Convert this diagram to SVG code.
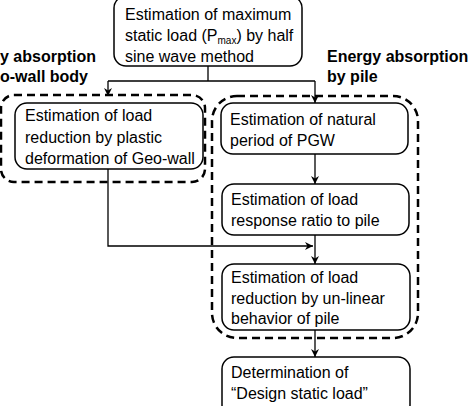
<svg xmlns="http://www.w3.org/2000/svg" width="474" height="406" viewBox="0 0 474 406">
<defs>
<marker id="arr" viewBox="0 0 10 10" refX="10" refY="5" markerWidth="8" markerHeight="8" markerUnits="userSpaceOnUse" orient="auto">
<path d="M0,0 L10,5 L0,10 L3,5 Z" fill="#000"/>
</marker>
<style>
.box{fill:#fff;stroke:#000;stroke-width:1.5}
.grp{fill:none;stroke:#000;stroke-width:2.5;stroke-dasharray:8 5}
.t{font-family:"Liberation Sans",Arial,sans-serif;font-size:16px;fill:#000}
.b{font-family:"Liberation Sans",Arial,sans-serif;font-size:16px;font-weight:bold;fill:#000}
.c{fill:none;stroke:#000;stroke-width:1.3}
</style>
</defs>
<rect width="474" height="406" fill="#fff"/>
<g id="groups">
<rect class="grp" x="1" y="95" width="204" height="87" rx="13"/>
<rect class="grp" x="212" y="96" width="206" height="242" rx="25"/>
</g>
<g id="labels">
<text class="b" x="0" y="62">y absorption</text>
<text class="b" x="0" y="82">o-wall body</text>
<text class="b" x="327" y="62">Energy absorption</text>
<text class="b" x="327" y="82">by pile</text>
</g>
<g id="connectors">
<path class="c" d="M208,66 V81 M108,81 H315"/>
<path class="c" d="M108,81 V96" marker-end="url(#arr)"/>
<path class="c" d="M315,81 V103" marker-end="url(#arr)"/>
<path class="c" d="M108,169 V246 H313" marker-end="url(#arr)"/>
<path class="c" d="M315,154 V184" marker-end="url(#arr)"/>
<path class="c" d="M315,235 V264" marker-end="url(#arr)"/>
<path class="c" d="M315,330 V357" marker-end="url(#arr)"/>
</g>
<g id="n1">
<rect class="box" x="114" y="-4" width="188" height="70" rx="12"/>
<text class="t" x="125" y="20">Estimation of maximum</text>
<text class="t" x="125" y="41">static load (P<tspan font-size="10" dy="3">max</tspan><tspan dy="-3">) by half</tspan></text>
<text class="t" x="125" y="62">sine wave method</text>
</g>
<g id="n2">
<rect class="box" x="15" y="103" width="188" height="66" rx="12"/>
<text class="t" x="25" y="121">Estimation of load</text>
<text class="t" x="25" y="143">reduction by plastic</text>
<text class="t" x="25" y="164">deformation of Geo-wall</text>
</g>
<g id="n3">
<rect class="box" x="221" y="103" width="187" height="51" rx="12"/>
<text class="t" x="230" y="125">Estimation of natural</text>
<text class="t" x="230" y="146">period of PGW</text>
</g>
<g id="n4">
<rect class="box" x="222" y="184" width="187" height="51" rx="12"/>
<text class="t" x="231" y="205">Estimation of load</text>
<text class="t" x="231" y="226">response ratio to pile</text>
</g>
<g id="n5">
<rect class="box" x="222" y="264" width="188" height="66" rx="12"/>
<text class="t" x="231" y="283">Estimation of load</text>
<text class="t" x="231" y="304">reduction by un-linear</text>
<text class="t" x="231" y="324">behavior of pile</text>
</g>
<g id="n6">
<rect class="box" x="222" y="357" width="188" height="60" rx="12"/>
<text class="t" x="231" y="378">Determination of</text>
<text class="t" x="231" y="399">“Design static load”</text>
</g>
</svg>
